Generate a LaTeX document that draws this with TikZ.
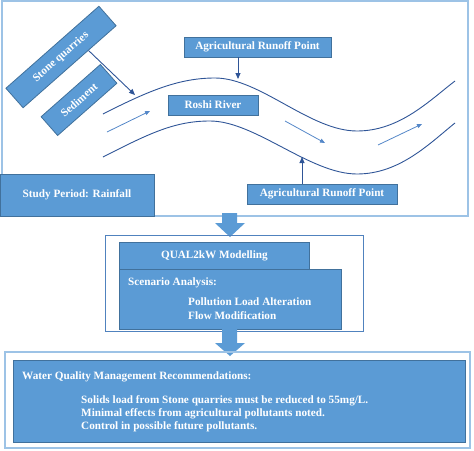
\documentclass[tikz,border=0pt]{standalone}
\usepackage{fontspec}
\setmainfont{Liberation Serif}
\usetikzlibrary{calc,arrows.meta}
\definecolor{boxfill}{RGB}{91,155,213}
\definecolor{boxline}{RGB}{65,113,156}
\definecolor{framelight}{RGB}{157,195,230}
\definecolor{framemid}{RGB}{80,130,190}
\definecolor{riverline}{RGB}{47,85,151}
\definecolor{flowline}{RGB}{84,135,200}
\newcommand{\boxfont}{\fontsize{11.2}{13}\selectfont\bfseries}
\tikzset{
  bluebox/.style={draw=boxline, fill=boxfill, line width=0.8pt, text=white, inner sep=0pt, font=\boxfont},
  whitetext/.style={text=white, inner sep=0pt, font=\boxfont},
  bank/.style={draw=riverline, line width=0.9pt},
  flow/.style={draw=flowline, line width=0.8pt, -{Triangle[length=5pt,width=4pt]}},
  pointer/.style={draw=riverline, line width=0.9pt, -{Triangle[length=6pt,width=5pt]}},
  blockarrow/.style={fill=boxfill, draw=none},
}
\begin{document}
\begin{tikzpicture}[x=1pt,y=-1pt]
\useasboundingbox (0,0) rectangle (474,450);
% top frame
\draw[framelight, line width=1.5pt] (2,1) rectangle (468,216);
% river banks
\draw[bank] (103,114) .. controls (150,90) and (180,78) .. (215,78)
  .. controls (260,78) and (310,131) .. (357,131)
  .. controls (400,131) and (430,100) .. (455,81);
\draw[bank] (103,157) .. controls (150,133) and (175,121) .. (210,121)
  .. controls (255,121) and (310,174) .. (357,174)
  .. controls (400,174) and (430,143) .. (455,123);
% flow arrows
\coordinate (f1a) at (107,132); \coordinate (f1b) at (150,111);
\coordinate (f2a) at (285,121); \coordinate (f2b) at (325,143);
\coordinate (f3a) at (378,145); \coordinate (f3b) at (422,124);
\draw[flow] (f1a) -- (f1b);
\draw[flow] (f2a) -- (f2b);
\draw[flow] (f3a) -- (f3b);
% boxes
\node[bluebox, rotate=41.4, minimum width=124pt, minimum height=26pt] (sq) at (61,57) {Stone quarries};
\node[bluebox, rotate=41.4, minimum width=79pt, minimum height=25pt] (sed) at (79,100) {Sediment};
\node[bluebox, minimum width=147pt, minimum height=20pt] (agri1) at (257.5,47) {Agricultural Runoff Point};
\node[bluebox, minimum width=90pt, minimum height=20pt] (roshi) at (213,105) {Roshi River};
\node[bluebox, minimum width=150pt, minimum height=20pt] (agri2) at (322,194) {Agricultural Runoff Point};
\node[bluebox, minimum width=154pt, minimum height=42pt] (study) at (77,195) {\raisebox{3pt}{Study Period: Rainfall}};
% pointers
\coordinate (bankA) at (135,95);
\coordinate (bankB) at (238,79);
\coordinate (bankC) at (302,157);
\draw[pointer] ($(sq.south)!0.4!(sq.south east)$) -- (bankA);
\draw[pointer] (agri1.south -| bankB) -- (bankB);
\draw[pointer] (agri2.north -| bankC) -- (bankC);
% block arrow 1
\fill[blockarrow] (222,213) -- (237,213) -- (237,223) -- (245,223) -- (230,237) -- (215,223) -- (222,223) -- cycle;
% middle frame
\draw[framemid, line width=0.8pt] (105,235) rectangle (363,331);
\node[bluebox, anchor=north west, minimum width=190pt, minimum height=27pt] (qual) at (119,242) {};
\node[whitetext] (qualt) at (qual.center) {QUAL2kW Modelling};
\node[bluebox, anchor=north west, minimum width=222pt, minimum height=60pt] (scen) at (119,269) {};
\node[whitetext, anchor=west] (scent) at (128,283) {Scenario Analysis:};
\node[whitetext, anchor=north west, align=left, font=\fontsize{11.2}{13.5}\selectfont\bfseries] (scenl) at (188,298) {Pollution Load Alteration\\Flow Modification};
% block arrow 2
\fill[blockarrow] (222,329) -- (237,329) -- (237,343) -- (245,343) -- (230,356) -- (215,343) -- (222,343) -- cycle;
% bottom frame
\draw[framelight, line width=2pt] (5,352) rectangle (470,448);
\node[bluebox, anchor=north west, minimum width=452pt, minimum height=82pt] (wq) at (13,360) {};
\node[whitetext, anchor=west] (wqt) at (22,377) {Water Quality Management Recommendations:};
\node[whitetext, anchor=north west, align=left] (wql) at (81,395) {Solids load from Stone quarries must be reduced to 55mg/L.\\Minimal effects from agricultural pollutants noted.\\Control in possible future pollutants.};
\end{tikzpicture}
\end{document}
